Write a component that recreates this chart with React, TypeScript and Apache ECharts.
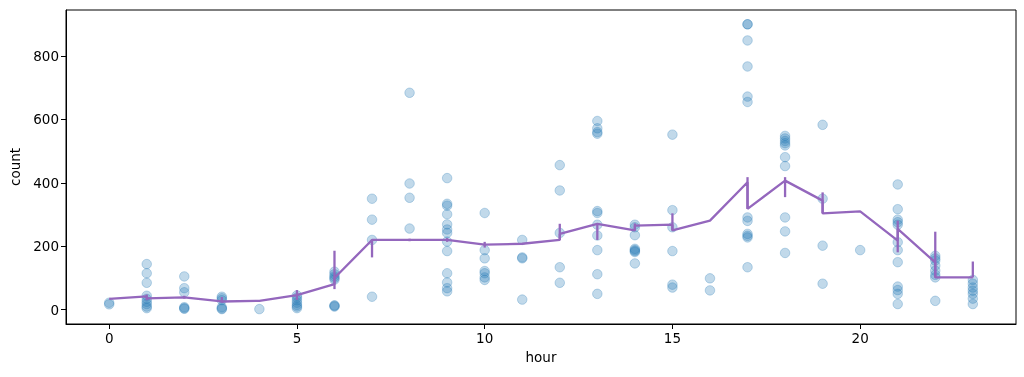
import React, { useEffect, useRef } from "react";
import * as echarts from "echarts";

// scatter: observed counts per hour (index = hour)
const hours = [0, 1, 2, 3, 4, 5, 6, 7, 8, 9, 10, 11, 12, 13, 14, 15, 16, 17, 18, 19, 20, 21, 22, 23];
const countsByHour: number[][] = [
  [22, 17],
  [144, 115, 85, 44, 34, 25, 18, 10, 5],
  [105, 68, 55, 8, 5, 3],
  [41, 36, 30, 8, 4, 2],
  [2],
  [45, 38, 30, 22, 15, 10, 5],
  [120, 112, 105, 100, 95, 14, 12, 10],
  [350, 284, 220, 41],
  [684, 398, 353, 256],
  [415, 334, 328, 301, 269, 253, 242, 215, 185, 115, 86, 68, 58],
  [305, 188, 162, 122, 115, 102, 94],
  [220, 165, 162, 32],
  [456, 376, 242, 134, 85],
  [595, 572, 560, 555, 311, 305, 268, 234, 188, 112, 50],
  [268, 260, 235, 192, 188, 185, 182, 146],
  [552, 314, 260, 185, 79, 70],
  [99, 61],
  [900, 900, 849, 767, 672, 655, 291, 280, 239, 233, 228, 134],
  [548, 540, 532, 525, 518, 481, 453, 291, 247, 179],
  [583, 350, 202, 82],
  [188],
  [395, 317, 284, 276, 268, 213, 188, 150, 73, 62, 50, 18],
  [170, 162, 155, 139, 123, 110, 102, 28],
  [94, 82, 70, 60, 50, 35, 18],
];

// mean line vertices (x repeats where the line re-enters at an error bar)
const lineHour = [0, 1, 1, 2, 3, 3, 4, 5, 5, 6, 6, 7, 8, 9, 10, 11, 12, 12, 13, 14, 14, 15, 15, 16, 17, 17, 18, 19, 19, 20, 21, 21, 22, 22, 23];
const lineCount = [34, 42, 36, 39, 26, 28, 28, 46, 44, 81, 100, 220, 220, 220, 205, 208, 220, 239, 271, 250, 265, 268, 250, 281, 402, 318, 407, 344, 304, 310, 218, 255, 149, 102, 102];

// error bars
const errHour = [1, 2, 3, 5, 6, 7, 8, 9, 10, 12, 13, 14, 15, 17, 18, 19, 21, 22, 23];
const errLow = [30, 35, 22, 31, 65, 165, 216, 214, 196, 220, 220, 250, 250, 318, 355, 304, 181, 102, 102];
const errHigh = [48, 44, 40, 62, 186, 222, 224, 226, 214, 271, 271, 272, 304, 418, 418, 370, 281, 246, 152];

const xTicks = [0, 5, 10, 15, 20];
const yTicks = [0, 200, 400, 600, 800];

export default function App() {
  const ref = useRef<HTMLDivElement>(null);
  useEffect(() => {
    if (!ref.current) return;
    const chart = echarts.init(ref.current, undefined, { renderer: "svg" });
    const scatterData: number[][] = [];
    hours.forEach((h, i) => countsByHour[i].forEach((c) => scatterData.push([h, c])));
    const lineData = lineHour.map((h, i) => [h, lineCount[i]]);
    const errData = errHour.map((h, i) => [h, errLow[i], errHigh[i]]);
    const font = "DejaVu Sans";
    chart.setOption({
      animation: false,
      grid: { left: 66, right: 8, top: 10, bottom: 53, show: true, borderColor: "#000", borderWidth: 1, backgroundColor: "transparent" },
      xAxis: {
        type: "value",
        min: -1.15,
        max: 24.15,
        name: "hour",
        nameLocation: "middle",
        nameGap: 26,
        nameTextStyle: { color: "#000", fontFamily: font, fontSize: 13.5 },
        axisLine: { show: true, onZero: false, lineStyle: { color: "#000" } },
        axisTick: { show: true, length: 5, lineStyle: { color: "#000" }, customValues: xTicks },
        axisLabel: { color: "#000", fontFamily: font, fontSize: 13.5, margin: 7, customValues: xTicks },
        splitLine: { show: false },
      },
      yAxis: {
        type: "value",
        min: -45,
        max: 945,
        name: "count",
        nameLocation: "middle",
        nameGap: 44,
        nameRotate: 90,
        nameTextStyle: { color: "#000", fontFamily: font, fontSize: 13.5 },
        axisLine: { show: true, onZero: false, lineStyle: { color: "#000" } },
        axisTick: { show: true, length: 5, lineStyle: { color: "#000" }, customValues: yTicks },
        axisLabel: { color: "#000", fontFamily: font, fontSize: 13.5, margin: 7, customValues: yTicks },
        splitLine: { show: false },
      },
      series: [
        {
          type: "scatter",
          data: scatterData,
          symbolSize: 9.5,
          itemStyle: { color: "rgba(31,119,180,0.35)", borderColor: "rgba(31,119,180,0.35)", borderWidth: 1 },
          z: 2,
        },
        {
          type: "line",
          data: lineData,
          showSymbol: false,
          lineStyle: { color: "#9467bd", width: 2.3 },
          z: 3,
        },
        {
          type: "custom",
          data: errData,
          z: 4,
          renderItem: (params: any, api: any) => {
            const p1 = api.coord([api.value(0), api.value(1)]);
            const p2 = api.coord([api.value(0), api.value(2)]);
            return {
              type: "line",
              shape: { x1: p1[0], y1: p1[1], x2: p2[0], y2: p2[1] },
              style: { stroke: "#9467bd", lineWidth: 2.3 },
            };
          },
        },
      ],
    });
    return () => chart.dispose();
  }, []);
  return <div ref={ref} style={{ position: "fixed", left: 0, top: 0, width: 1024, height: 377 }} />;
}
